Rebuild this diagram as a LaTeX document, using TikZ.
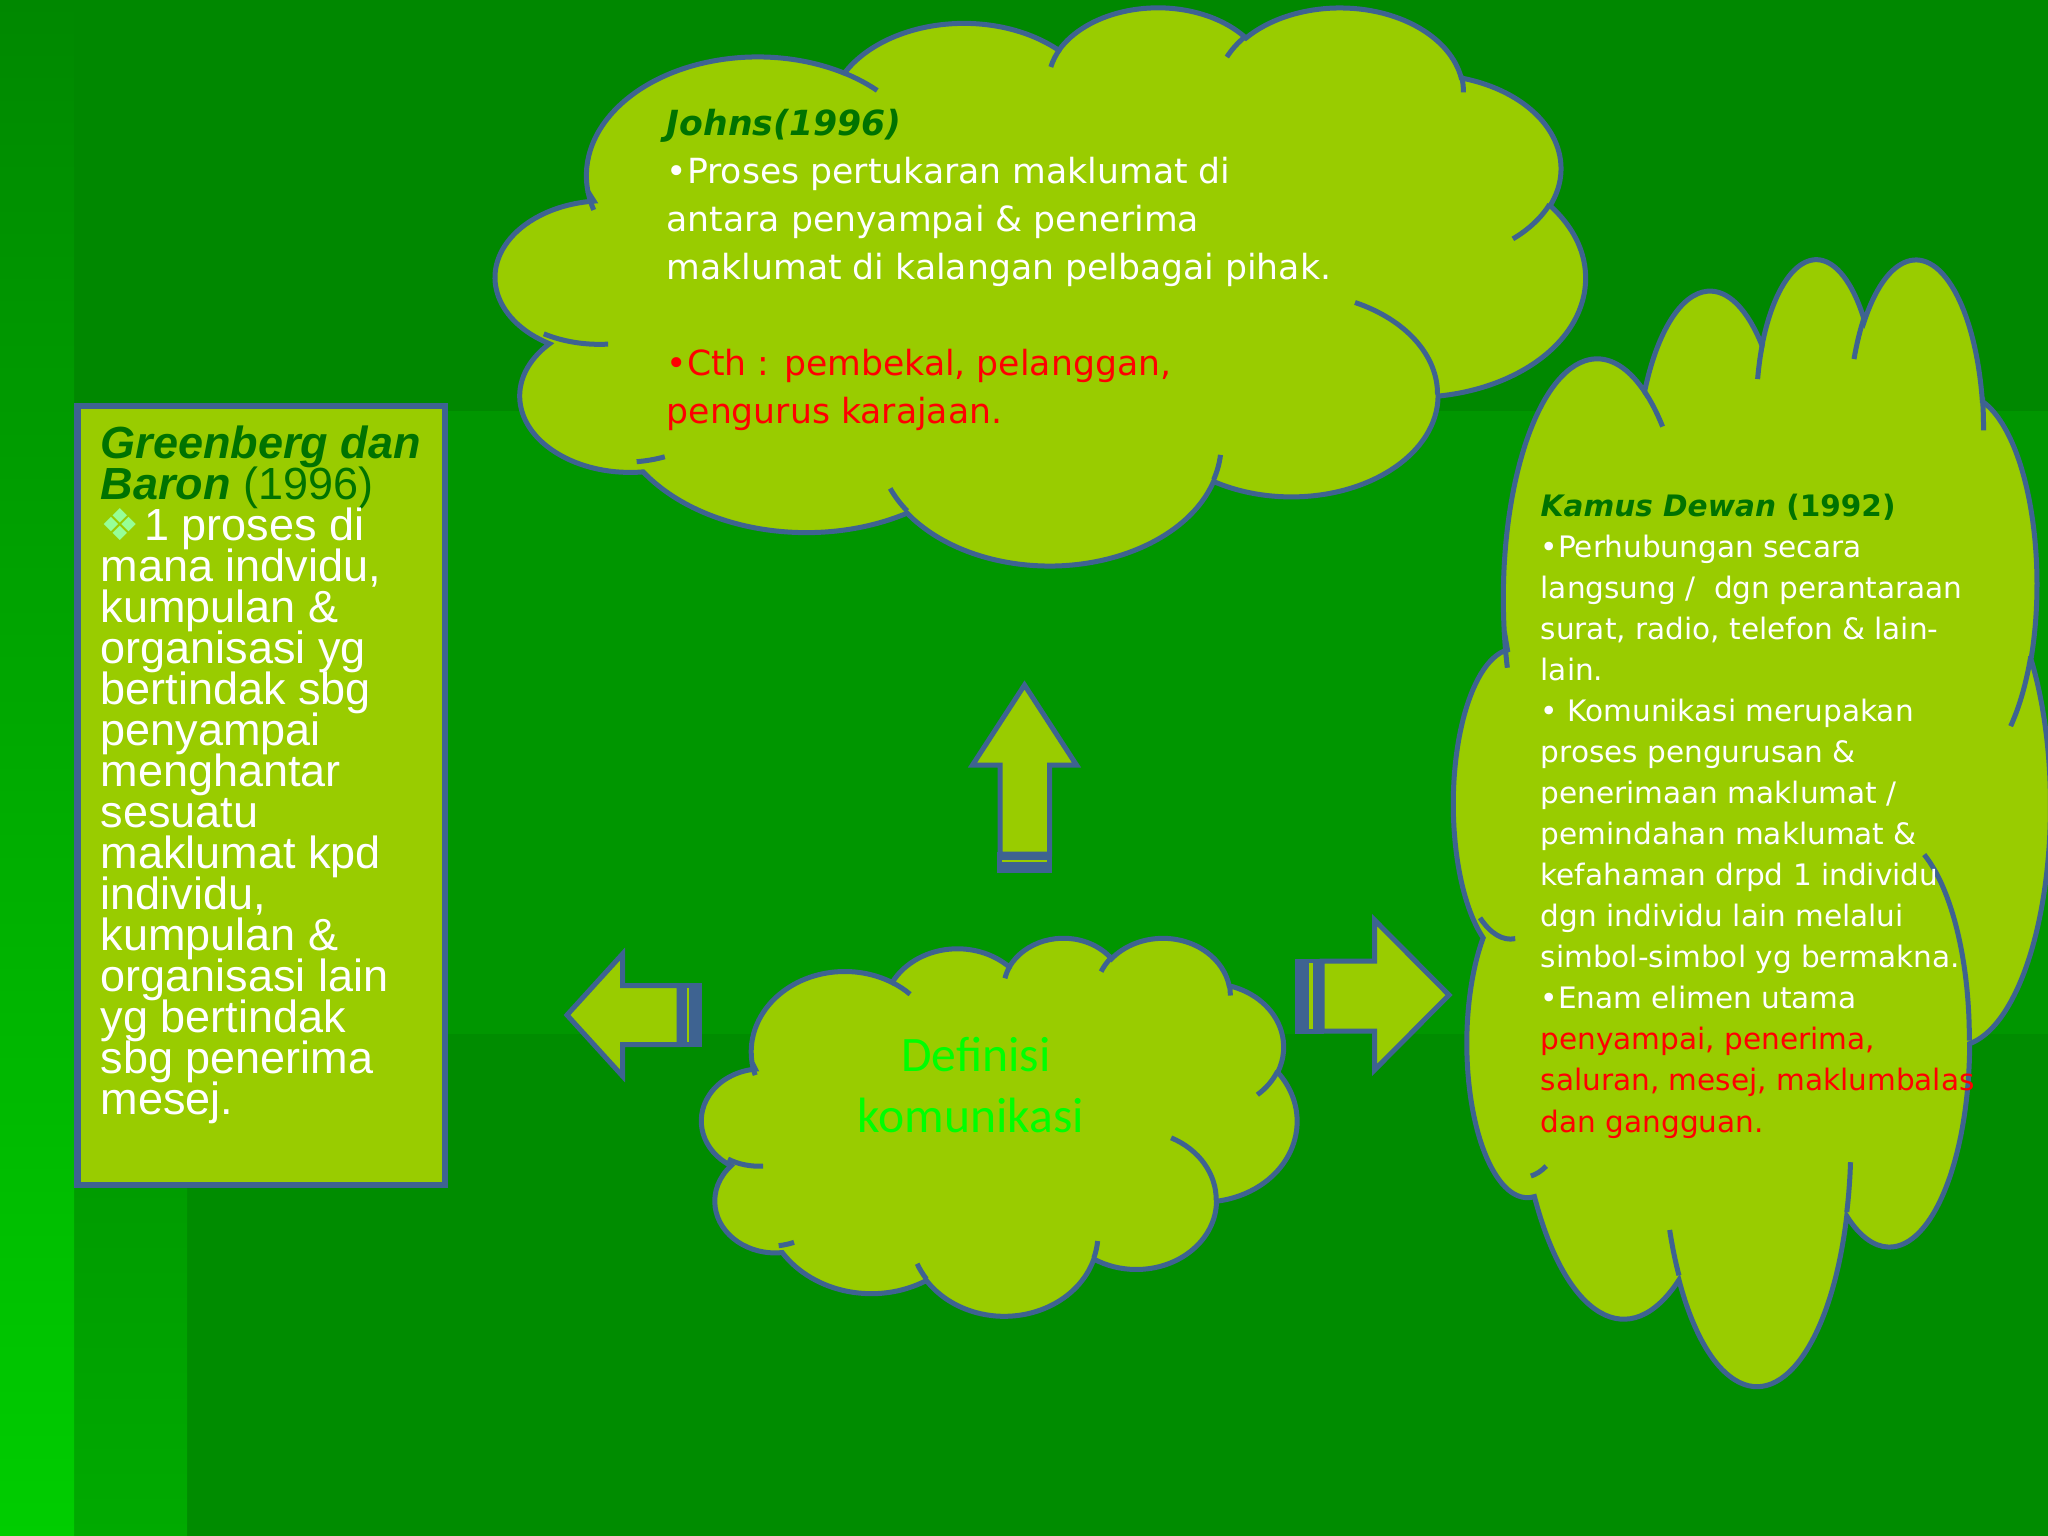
\documentclass[tikz,border=0pt]{standalone}
\usepackage{fontspec}
\setmainfont{Liberation Sans}
\newfontfamily\dvs{DejaVu Sans}
\newfontfamily\clb{Carlito}
\definecolor{bgtop}{RGB}{0,136,0}
\definecolor{bgband}{RGB}{0,150,0}
\definecolor{bgbot}{RGB}{0,140,0}
\definecolor{limefill}{RGB}{153,204,0}
\definecolor{edgeblue}{RGB}{62,99,145}
\definecolor{dkgreen}{RGB}{0,115,0}
\definecolor{bulletgreen}{RGB}{150,255,150}
\definecolor{txtred}{RGB}{255,0,0}
\definecolor{neongreen}{RGB}{0,255,0}
\tikzset{declare function={tpar(\ua,\ub,\uc)=atan2(\ua*sin(\uc),\ub*cos(\uc));}}

\newcommand\drawcloud[4]{%
  \pgfmathsetmacro\cldx{#3/432/100}%
  \pgfmathsetmacro\cldy{#4/432/100}%
  \begin{scope}[shift={(#1,#2)}, x=\cldx cm, y=-\cldy cm]
    \fill[limefill] (39,143.7)
      \foreach \wr/\hr/\st/\sw in {67.53/91.90/-190.4875/123.7805,
        53.33/72.67/-144.1024/89.9452, 43.65/59.45/-145.8079/99.7230,
        48.57/65.95/-130.9861/117.2417, 53.33/72.73/-78.7089/109.0269,
        67.75/92.20/-46.2673/130.2690, 57.85/78.67/0.6250/114.0333,
        67.52/92.15/22.4516/115.1726, 77.20/105.43/66.2426/71.4854,
        43.60/59.18/-274.9421/146.7356, 43.45/59.45/-246.8285/152.5189}
      {arc[start angle={tpar(\wr,\hr,\st)},
           delta angle={mod(tpar(\wr,\hr,\st+\sw)-tpar(\wr,\hr,\st)+720,360)},
           x radius=\wr, y radius=\hr]} -- cycle;
    \draw[cloudedge] (39,143.7)
      \foreach \wr/\hr/\st/\sw in {67.53/91.90/-190.4875/123.7805,
        53.33/72.67/-144.1024/89.9452, 43.65/59.45/-145.8079/99.7230,
        48.57/65.95/-130.9861/117.2417, 53.33/72.73/-78.7089/109.0269,
        67.75/92.20/-46.2673/130.2690, 57.85/78.67/0.6250/114.0333,
        67.52/92.15/22.4516/115.1726, 77.20/105.43/66.2426/71.4854,
        43.60/59.18/-274.9421/146.7356, 43.45/59.45/-246.8285/152.5189}
      {arc[start angle={tpar(\wr,\hr,\st)},
           delta angle={mod(tpar(\wr,\hr,\st+\sw)-tpar(\wr,\hr,\st)+720,360)},
           x radius=\wr, y radius=\hr]} -- cycle;
    \draw[cloudedge]
      \foreach \px/\py/\wr/\hr/\st/\sw in {46.93/261.77/43.45/59.45/86.7420/26.4295,
        69.28/348.99/43.60/59.18/73.6105/11.4475,
        164.78/390.90/67.52/92.15/137.6242/14.0811,
        288.27/347.51/67.52/92.15/6.4533/15.9984,
        341.29/229.54/57.85/78.67/-70.2924/70.9174,
        417.98/153.54/53.33/72.73/30.3180/27.7515,
        383.24/54.26/48.57/65.95/-13.7443/14.8589,
        290.78/39.52/48.57/65.95/-149.1815/18.1954,
        221.41/47.20/43.65/59.45/-163.4943/17.6864,
        140.00/51.92/67.53/91.90/-66.7070/12.3194,
        41.27/157.89/67.53/91.90/157.6544/11.8582}
      {(\px,\py) arc[start angle={tpar(\wr,\hr,\st)},
           delta angle={mod(tpar(\wr,\hr,\st+\sw)-tpar(\wr,\hr,\st)+720,360)},
           x radius=\wr, y radius=\hr]};
  \end{scope}}

\begin{document}
\begin{tikzpicture}[
  x=0.01cm, y=-0.01cm,
  cloudedge/.style={draw=edgeblue, line width=0.05cm},
  arrowbox/.style={draw=edgeblue, fill=limefill, line width=0.05cm},
  stripe/.style={draw=limefill},
  gbline/.style={anchor=base west, inner sep=0pt, text=white,
    font=\fontsize{12.8}{12}\selectfont},
  jnline/.style={anchor=base west, inner sep=0pt, text=white,
    font=\dvs\fontsize{9.85}{12}\selectfont},
  kdline/.style={anchor=base west, inner sep=0pt, text=white,
    font=\dvs\fontsize{8.4}{10}\selectfont},
  defline/.style={anchor=base, inner sep=0pt, text=neongreen,
    font=\clb\fontsize{14.1}{16}\selectfont}
]
  \useasboundingbox (0,0) rectangle (2048,1536);
  \clip (0,0) rectangle (2048,1536);
  \fill[bgtop] (0,0) rectangle (2048,411);
  \fill[bgband] (0,411) rectangle (2048,1034);
  \fill[bgbot] (0,1034) rectangle (2048,1536);
  \shade[top color=bgband, bottom color={rgb,255:red,0;green,170;blue,0}] (74,1034) rectangle (187,1536);
  \shade[top color=bgtop, bottom color={rgb,255:red,0;green,205;blue,0}] (0,0) rectangle (74,1536);

  \draw[edgeblue, fill=limefill, line width=0.06cm] (77.5,405.5) rectangle (445,1185);

  \drawcloud{489}{6}{1096}{558}
  \drawcloud{698}{937}{599}{378}
  \drawcloud{1450}{256}{600}{1126}

  \draw[arrowbox] (1000,854) -- (1000,765) -- (972.5,765) -- (1024.5,685)
    -- (1076.5,765) -- (1049.5,765) -- (1049.5,854) -- cycle;
  \fill[edgeblue] (997,852) rectangle (1052,873);
  \draw[stripe, line width=0.015cm] (1002,861) -- (1047,861);

  \draw[arrowbox] (567,1015) -- (622.5,954) -- (622.5,985.5) -- (679,985.5)
    -- (679,1044.5) -- (622.5,1044.5) -- (622.5,1076) -- cycle;
  \fill[edgeblue] (678,983) rectangle (702,1047);
  \draw[stripe, line width=0.015cm] (688,988) -- (688,1042);

  \draw[arrowbox] (1322,961) -- (1374.5,961) -- (1374.5,920) -- (1449,995)
    -- (1374.5,1070) -- (1374.5,1031) -- (1322,1031) -- cycle;
  \fill[edgeblue] (1295,958.5) rectangle (1324,1033.5);
  \draw[stripe, line width=0.035cm] (1311,963) -- (1311,1029);

  \foreach \t [count=\i from 0] in {
      {\textcolor{dkgreen}{\bfseries\itshape Greenberg dan}},
      {\textcolor{dkgreen}{\textbf{\textit{Baron}} (1996)}},
      {{\dvs\fontsize{12.5}{12}\selectfont\textcolor{bulletgreen}{❖}}\hspace{0.04cm}1 proses di},
      {mana indvidu,}, {kumpulan \&}, {organisasi yg}, {bertindak sbg},
      {penyampai}, {menghantar}, {sesuatu}, {maklumat kpd}, {individu,},
      {kumpulan \&}, {organisasi lain}, {yg bertindak}, {sbg penerima},
      {mesej.}}
    \node[gbline] (gb\i) at (100,458+41*\i) {\t};

  \foreach \i/\t in {
      0/{\textcolor{dkgreen}{\bfseries\itshape Johns(1996)}},
      1/{•Proses pertukaran maklumat di},
      2/{antara penyampai \& penerima},
      3/{maklumat di kalangan pelbagai pihak.},
      5/{\textcolor{txtred}{•Cth : pembekal, pelanggan,}},
      6/{\textcolor{txtred}{pengurus karajaan.}}}
    \node[jnline] (jn\i) at (666,135+48*\i) {\t};

  \foreach \t [count=\i from 0] in {
      {\textcolor{dkgreen}{\bfseries{\itshape Kamus Dewan} (1992)}},
      {•Perhubungan secara},
      {langsung /\ \ dgn perantaraan},
      {surat, radio, telefon \& lain-},
      {lain.},
      {• Komunikasi merupakan},
      {proses pengurusan \&},
      {penerimaan maklumat /},
      {pemindahan maklumat \&},
      {kefahaman drpd 1 individu},
      {dgn individu lain melalui},
      {simbol-simbol yg bermakna.},
      {•Enam elimen utama},
      {\textcolor{txtred}{penyampai, penerima,}},
      {\textcolor{txtred}{saluran, mesej, maklumbalas}},
      {\textcolor{txtred}{dan gangguan.}}}
    \node[kdline] (kd\i) at (1540,516+41.07*\i) {\t};

  \node[defline] (df1) at (976,1071) {Definisi};
  \node[defline] (df2) at (971,1132) {komunikasi};
\end{tikzpicture}
\end{document}
